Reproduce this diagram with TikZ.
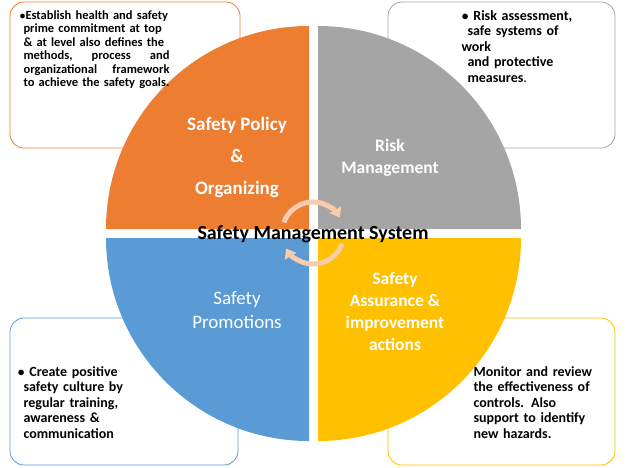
\documentclass[tikz,border=0pt]{standalone}
\usepackage{fontspec}
\setmainfont{Carlito}
\usetikzlibrary{arrows.meta}
\definecolor{cor}{HTML}{ED7D31}
\definecolor{cgr}{HTML}{A5A5A5}
\definecolor{cbl}{HTML}{5B9BD5}
\definecolor{cye}{HTML}{FFC000}
\definecolor{cpk}{HTML}{F8CBAD}
\begin{document}
\begin{tikzpicture}[x=1pt,y=-1pt,
  box/.style={draw,line width=0.8pt,rounded corners=14pt},
  qlab/.style={text=white,align=center,font=\fontsize{19}{24}\selectfont},
  btxt/.style={font=\bfseries\fontsize{14}{15.5}\selectfont,align=left,anchor=north west}]
\useasboundingbox (0,0) rectangle (631,467);
\fill[white] (0,0) rectangle (631,467);
\draw[box,cor] (10,2) rectangle (240,148);
\draw[box,cgr] (388,2) rectangle (615,148);
\draw[box,cbl] (10,318) rectangle (238,465);
\draw[box,cye] (388,318) rectangle (615,465);
\fill[cor] (309,229) -- (106,229) arc[start angle=180,end angle=270,radius=203] -- cycle;
\fill[cgr] (318,229) -- (318,26) arc[start angle=-90,end angle=0,radius=203] -- cycle;
\fill[cbl] (309,238) -- (309,441) arc[start angle=90,end angle=180,radius=203] -- cycle;
\fill[cye] (318,238) -- (521,238) arc[start angle=0,end angle=90,radius=203] -- cycle;
\node[btxt,font=\bfseries\fontsize{12.5}{13.5}\selectfont,text width=150pt] (t1) at (16,7) {$\bullet$Establish health and safety\\\hspace*{4pt}prime commitment at top\\\hspace*{4pt}\& at level also defines the\\\hspace*{4pt}methods,\hfill process\hfill and\\\hspace*{4pt}organizational\hfill framework\\\hspace*{4pt}to achieve the safety goals.};
\node[btxt,text width=130pt] (t2) at (458,7) {$\bullet$ Risk assessment,\\\hspace*{6pt}safe systems of work\\\hspace*{6pt}and protective\\\hspace*{6pt}measures\textmd{.}};
\node[btxt,text width=140pt] (t3) at (14,363) {$\bullet$ Create positive\\\hspace*{6pt}safety culture by\\\hspace*{6pt}regular training,\\\hspace*{6pt}awareness \&\\\hspace*{6pt}communication};
\node[btxt,text width=140pt] (t4) at (470,363) {Monitor and review\\the effectiveness of\\controls. Also\\support to identify\\new hazards.};
\node[qlab,font=\bfseries\fontsize{19}{32}\selectfont] (q1) at (237,157) {Safety Policy\\\&\\Organizing};
\node[qlab,font=\bfseries\fontsize{17.5}{22}\selectfont] (q2) at (390,158) {Risk\\Management};
\node[qlab] (q3) at (237,310) {Safety\\Promotions};
\node[qlab,font=\bfseries\fontsize{17.5}{22}\selectfont] (q4) at (395,311) {Safety\\Assurance \&\\improvement\\actions};
\coordinate (c) at (313,233);
\draw[cpk,line width=5pt,-{Triangle[length=9pt,width=13pt]}] (c) ++(-160:31) arc[start angle=-160,end angle=-30,radius=31];
\draw[cpk,line width=5pt,-{Triangle[length=9pt,width=13pt]}] (c) ++(20:31) arc[start angle=20,end angle=150,radius=31];
\node[font=\bfseries\fontsize{20}{22}\selectfont] (title) at (313,234) {Safety Management System};
\end{tikzpicture}
\end{document}
